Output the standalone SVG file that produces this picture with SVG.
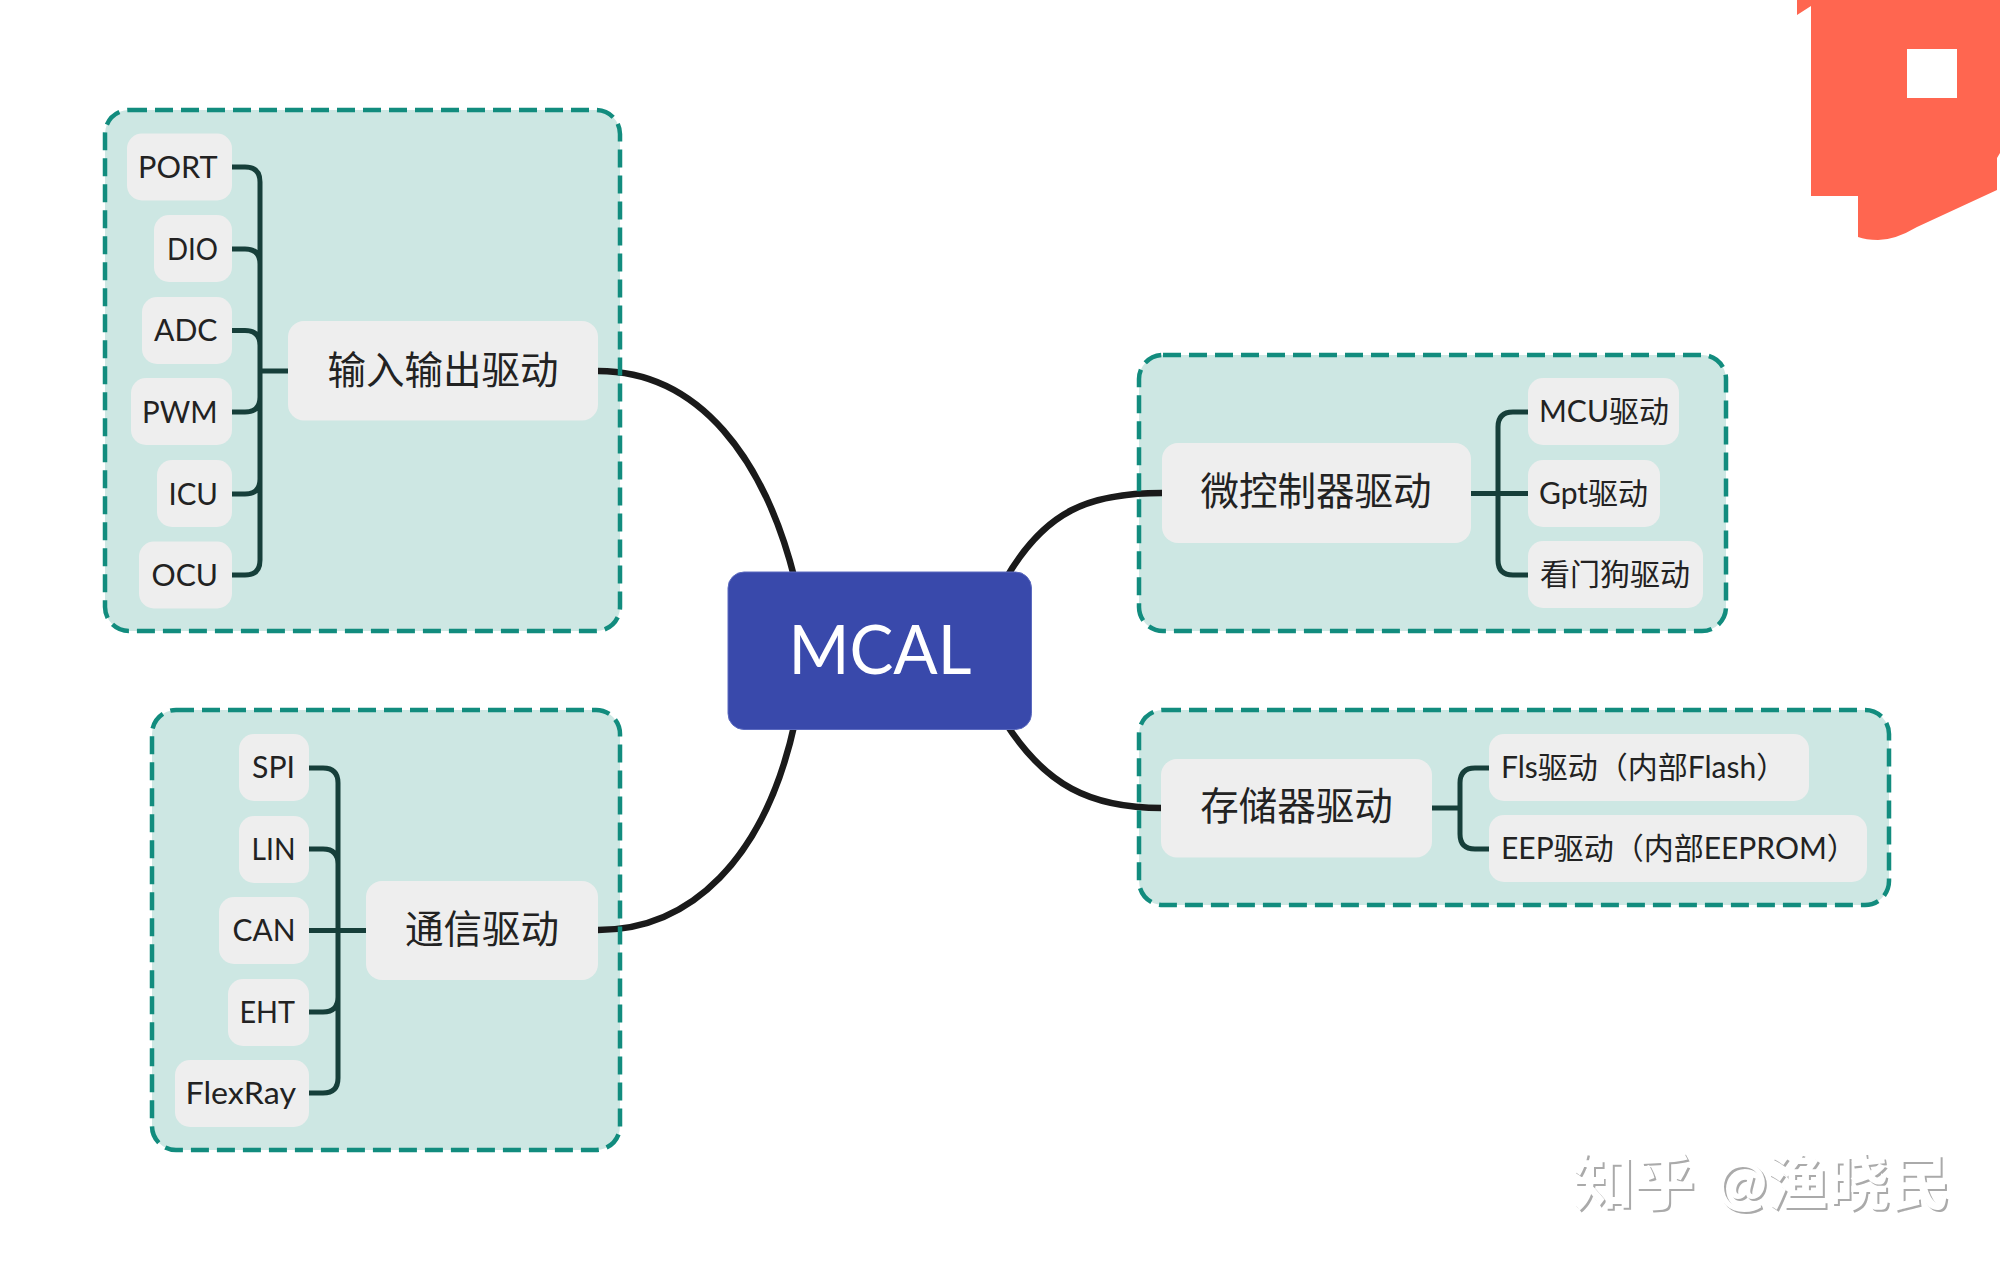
<svg xmlns="http://www.w3.org/2000/svg" width="2000" height="1267" viewBox="0 0 2000 1267">
<style>
text{font-family:"Lato","Noto Sans CJK SC",sans-serif;fill:#222}
.panel{fill:#cde7e3}
.frame{fill:none;stroke:#128c7e;stroke-width:4.500;stroke-dasharray:18 8}
.n{fill:#eeeeee}
.s{font-size:30px}
.l{font-size:38.500px;text-anchor:middle}
.e{text-anchor:end}
.main{fill:none;stroke:#1a1a1a;stroke-width:6.500}
.bus{fill:none;stroke:#163f3a;stroke-width:5}
</style>
<defs>
<filter id="wm" x="-5%" y="-20%" width="110%" height="140%">
<feOffset in="SourceAlpha" dx="-2" dy="-2" result="o"/>
<feComposite in="SourceGraphic" in2="o" operator="out"/>
</filter>
</defs>
<rect width="2000" height="1267" fill="#ffffff"/>
<g id="logo">
<path fill="#ff6650" fill-rule="evenodd" d="M1797 0H2000V153L1997 158V190L1917 227Q1895 240 1878 240Q1866 240 1858 237V196H1811V6L1797 15ZM1907 49V98H1957V49Z"/>
</g>
<g id="panels">
<rect class="panel" x="105" y="110" width="515" height="521" rx="24"/>
<rect class="panel" x="1139" y="355" width="587" height="276" rx="24"/>
<rect class="panel" x="1139" y="710" width="750" height="195" rx="24"/>
<rect class="panel" x="152" y="710" width="468" height="440" rx="24"/>
</g>
<g id="connectors">
<path class="main" d="M598 371C700 371 765 460 795 580"/>
<path class="main" d="M598 930C690 930 765 860 795 722"/>
<path class="main" d="M1162 493C1090 493 1045 510 1005 580"/>
<path class="main" d="M1162 808C1090 808 1045 785 1005 722"/>
<path class="bus" d="M232 167H245Q260 167 260 182V560Q260 575 245 575H232M232 249H245Q260 249 260 264M232 330.500H245Q260 330.500 260 345.500M232 412H245Q260 412 260 397M232 494H245Q260 494 260 479M260 371H288"/>
<path class="bus" d="M309 768H323Q338 768 338 783V1078Q338 1093 323 1093H309M309 849H323Q338 849 338 864M309 1012H323Q338 1012 338 997M309 930.500H366"/>
<path class="bus" d="M1528 412H1513Q1498 412 1498 427V560Q1498 575 1513 575H1528M1471 493.500H1528"/>
<path class="bus" d="M1489 768H1475Q1460 768 1460 783V834Q1460 849 1475 849H1489M1432 808H1460"/>
</g>
<g id="frames">
<rect class="frame" x="105" y="110" width="515" height="521" rx="24"/>
<rect class="frame" x="1139" y="355" width="587" height="276" rx="24"/>
<rect class="frame" x="1139" y="710" width="750" height="195" rx="24"/>
<rect class="frame" x="152" y="710" width="468" height="440" rx="24"/>
</g>
<g id="mcal">
<rect x="728" y="572" width="303.500" height="157.500" rx="16" fill="#3949ab" stroke="#5c6bc0" stroke-width="1"/>
<text x="880" y="674" font-size="68" text-anchor="middle" textLength="183" lengthAdjust="spacingAndGlyphs" style="fill:#fff">MCAL</text>
</g>
<g id="io"><rect class="n" x="288" y="321" width="310" height="99.500" rx="16"/><text class="l" x="443" y="384">输入输出驱动</text></g>
<g id="port"><rect class="n" x="127" y="133.500" width="105" height="67" rx="15"/><text class="s e" x="217.500" y="177.500" textLength="79.500" lengthAdjust="spacingAndGlyphs">PORT</text></g>
<g id="dio"><rect class="n" x="154" y="215" width="78" height="67" rx="15"/><text class="s e" x="218" y="259.500" textLength="51" lengthAdjust="spacingAndGlyphs">DIO</text></g>
<g id="adc"><rect class="n" x="142" y="297" width="90" height="67" rx="15"/><text class="s e" x="217.500" y="341" textLength="63.500" lengthAdjust="spacingAndGlyphs">ADC</text></g>
<g id="pwm"><rect class="n" x="131" y="378" width="101" height="67" rx="15"/><text class="s e" x="217.500" y="422.500" textLength="75.500" lengthAdjust="spacingAndGlyphs">PWM</text></g>
<g id="icu"><rect class="n" x="157" y="460" width="75" height="67" rx="15"/><text class="s e" x="218" y="504.500" textLength="49.500" lengthAdjust="spacingAndGlyphs">ICU</text></g>
<g id="ocu"><rect class="n" x="139" y="541.500" width="93" height="67" rx="15"/><text class="s e" x="218" y="586" textLength="66.500" lengthAdjust="spacingAndGlyphs">OCU</text></g>
<g id="mcu"><rect class="n" x="1162" y="443" width="309" height="100" rx="16"/><text class="l" x="1316" y="505">微控制器驱动</text></g>
<g id="mcud"><rect class="n" x="1528" y="378" width="151" height="67" rx="15"/><text class="s" x="1539" y="422">MCU驱动</text></g>
<g id="gpt"><rect class="n" x="1528" y="460" width="132" height="67" rx="15"/><text class="s" x="1539" y="503.500">Gpt驱动</text></g>
<g id="wdg"><rect class="n" x="1528" y="541" width="175" height="67" rx="15"/><text class="s" x="1540" y="585">看门狗驱动</text></g>
<g id="mem"><rect class="n" x="1161" y="759" width="271" height="98.500" rx="16"/><text class="l" x="1296.500" y="820">存储器驱动</text></g>
<g id="fls"><rect class="n" x="1489" y="734" width="320" height="67" rx="15"/><text class="s" x="1501" y="778">Fls驱动（内部Flash）</text></g>
<g id="eep"><rect class="n" x="1489" y="815" width="378" height="67" rx="15"/><text class="s" x="1501" y="859">EEP驱动（内部EEPROM）</text></g>
<g id="com"><rect class="n" x="366" y="881" width="232" height="99" rx="16"/><text class="l" x="482" y="943">通信驱动</text></g>
<g id="spi"><rect class="n" x="239" y="734" width="70" height="67" rx="15"/><text class="s e" x="295" y="778" textLength="43" lengthAdjust="spacingAndGlyphs">SPI</text></g>
<g id="lin"><rect class="n" x="239" y="816" width="70" height="67" rx="15"/><text class="s e" x="295.500" y="860" textLength="44" lengthAdjust="spacingAndGlyphs">LIN</text></g>
<g id="can"><rect class="n" x="219" y="897" width="90" height="67" rx="15"/><text class="s e" x="295.500" y="941" textLength="63" lengthAdjust="spacingAndGlyphs">CAN</text></g>
<g id="eht"><rect class="n" x="228" y="979" width="81" height="67" rx="15"/><text class="s e" x="295" y="1023" textLength="55.500" lengthAdjust="spacingAndGlyphs">EHT</text></g>
<g id="flexray"><rect class="n" x="175" y="1060" width="134" height="67" rx="15"/><text class="s e" x="296" y="1104" textLength="110.500" lengthAdjust="spacingAndGlyphs">FlexRay</text></g>
<g id="watermark" filter="url(#wm)"><text x="1575" y="1207" font-size="61" font-weight="700" style="fill:#aaaaaa" xml:space="preserve">知乎 <tspan dx="6">@渔晓民</tspan></text></g>
</svg>
